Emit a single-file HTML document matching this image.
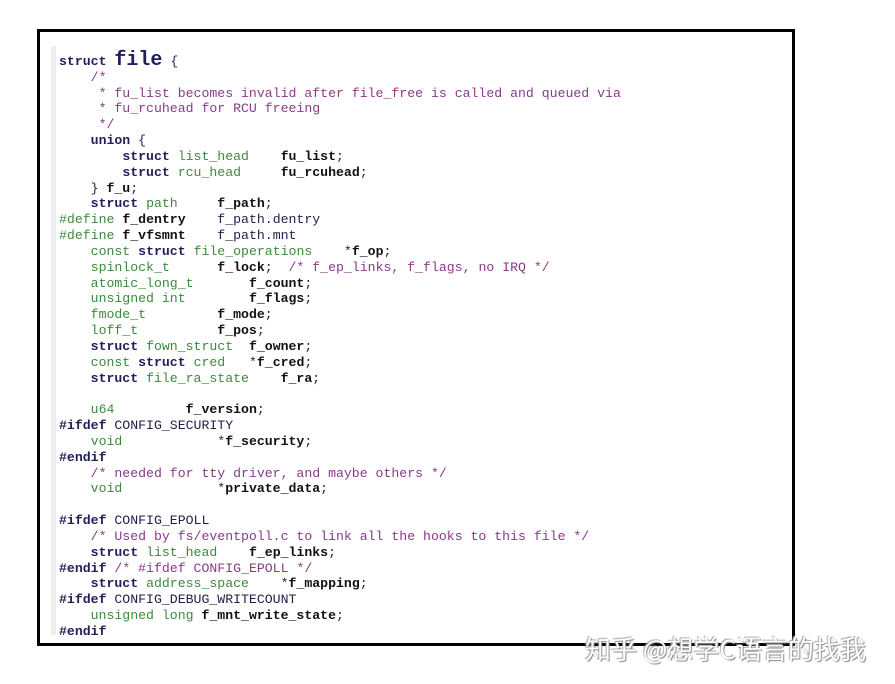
<!DOCTYPE html>
<html><head><meta charset="utf-8"><style>
body{margin:0;width:895px;height:684px;background:#fff;position:relative;overflow:hidden}
.frame{position:absolute;left:37px;top:29px;width:752px;height:611px;border:3px solid #000;background:#fff}
.bar{position:absolute;left:51px;top:46px;width:5px;height:590px;background:#eee}
pre{position:absolute;left:59px;top:54px;margin:0;font-family:"Liberation Mono",monospace;font-size:13.2px;line-height:15.83px;color:#1f1f4a;letter-spacing:0}
.k{font-weight:bold;color:#1f1f5a}
.t{color:#3c8a3c}
.c{color:#8a3a8a}
.f{font-weight:bold;color:#111}
.p{color:#3c8a3c}
.big{font-size:20px;font-weight:bold;color:#1f1f5a;line-height:10px}
.wm{position:absolute;left:585px;top:630px;font-family:"Noto Sans CJK SC",sans-serif;font-size:26px;color:#fff;text-shadow:1px 1px 1px #888,-1px -1px 1px #aaa;white-space:nowrap}
</style></head><body>
<div class="frame"></div>
<div class="bar"></div>
<pre><span class="k">struct</span> <span class="big">file</span> {
    <span class="c">/*</span>
<span class="c">     * fu_list becomes invalid after file_free is called and queued via</span>
<span class="c">     * fu_rcuhead for RCU freeing</span>
<span class="c">     */</span>
    <span class="k">union</span> {
        <span class="k">struct</span> <span class="t">list_head</span>    <span class="f">fu_list</span>;
        <span class="k">struct</span> <span class="t">rcu_head</span>     <span class="f">fu_rcuhead</span>;
    } <span class="f">f_u</span>;
    <span class="k">struct</span> <span class="t">path</span>     <span class="f">f_path</span>;
<span class="p">#define</span> <span class="f">f_dentry</span>    f_path.dentry
<span class="p">#define</span> <span class="f">f_vfsmnt</span>    f_path.mnt
    <span class="t">const</span> <span class="k">struct</span> <span class="t">file_operations</span>    *<span class="f">f_op</span>;
    <span class="t">spinlock_t</span>      <span class="f">f_lock</span>;  <span class="c">/* f_ep_links, f_flags, no IRQ */</span>
    <span class="t">atomic_long_t</span>       <span class="f">f_count</span>;
    <span class="t">unsigned int</span>        <span class="f">f_flags</span>;
    <span class="t">fmode_t</span>         <span class="f">f_mode</span>;
    <span class="t">loff_t</span>          <span class="f">f_pos</span>;
    <span class="k">struct</span> <span class="t">fown_struct</span>  <span class="f">f_owner</span>;
    <span class="t">const</span> <span class="k">struct</span> <span class="t">cred</span>   *<span class="f">f_cred</span>;
    <span class="k">struct</span> <span class="t">file_ra_state</span>    <span class="f">f_ra</span>;

    <span class="t">u64</span>         <span class="f">f_version</span>;
<span class="k">#ifdef</span> CONFIG_SECURITY
    <span class="t">void</span>            *<span class="f">f_security</span>;
<span class="k">#endif</span>
    <span class="c">/* needed for tty driver, and maybe others */</span>
    <span class="t">void</span>            *<span class="f">private_data</span>;

<span class="k">#ifdef</span> CONFIG_EPOLL
    <span class="c">/* Used by fs/eventpoll.c to link all the hooks to this file */</span>
    <span class="k">struct</span> <span class="t">list_head</span>    <span class="f">f_ep_links</span>;
<span class="k">#endif</span> <span class="c">/* #ifdef CONFIG_EPOLL */</span>
    <span class="k">struct</span> <span class="t">address_space</span>    *<span class="f">f_mapping</span>;
<span class="k">#ifdef</span> CONFIG_DEBUG_WRITECOUNT
    <span class="t">unsigned long</span> <span class="f">f_mnt_write_state</span>;
<span class="k">#endif</span></pre>
<div style="position:absolute;left:40px;top:635px;width:749px;height:5px;background:#fff"></div>
<div class="wm">知乎 @想学C语言的找我</div>
</body></html>
